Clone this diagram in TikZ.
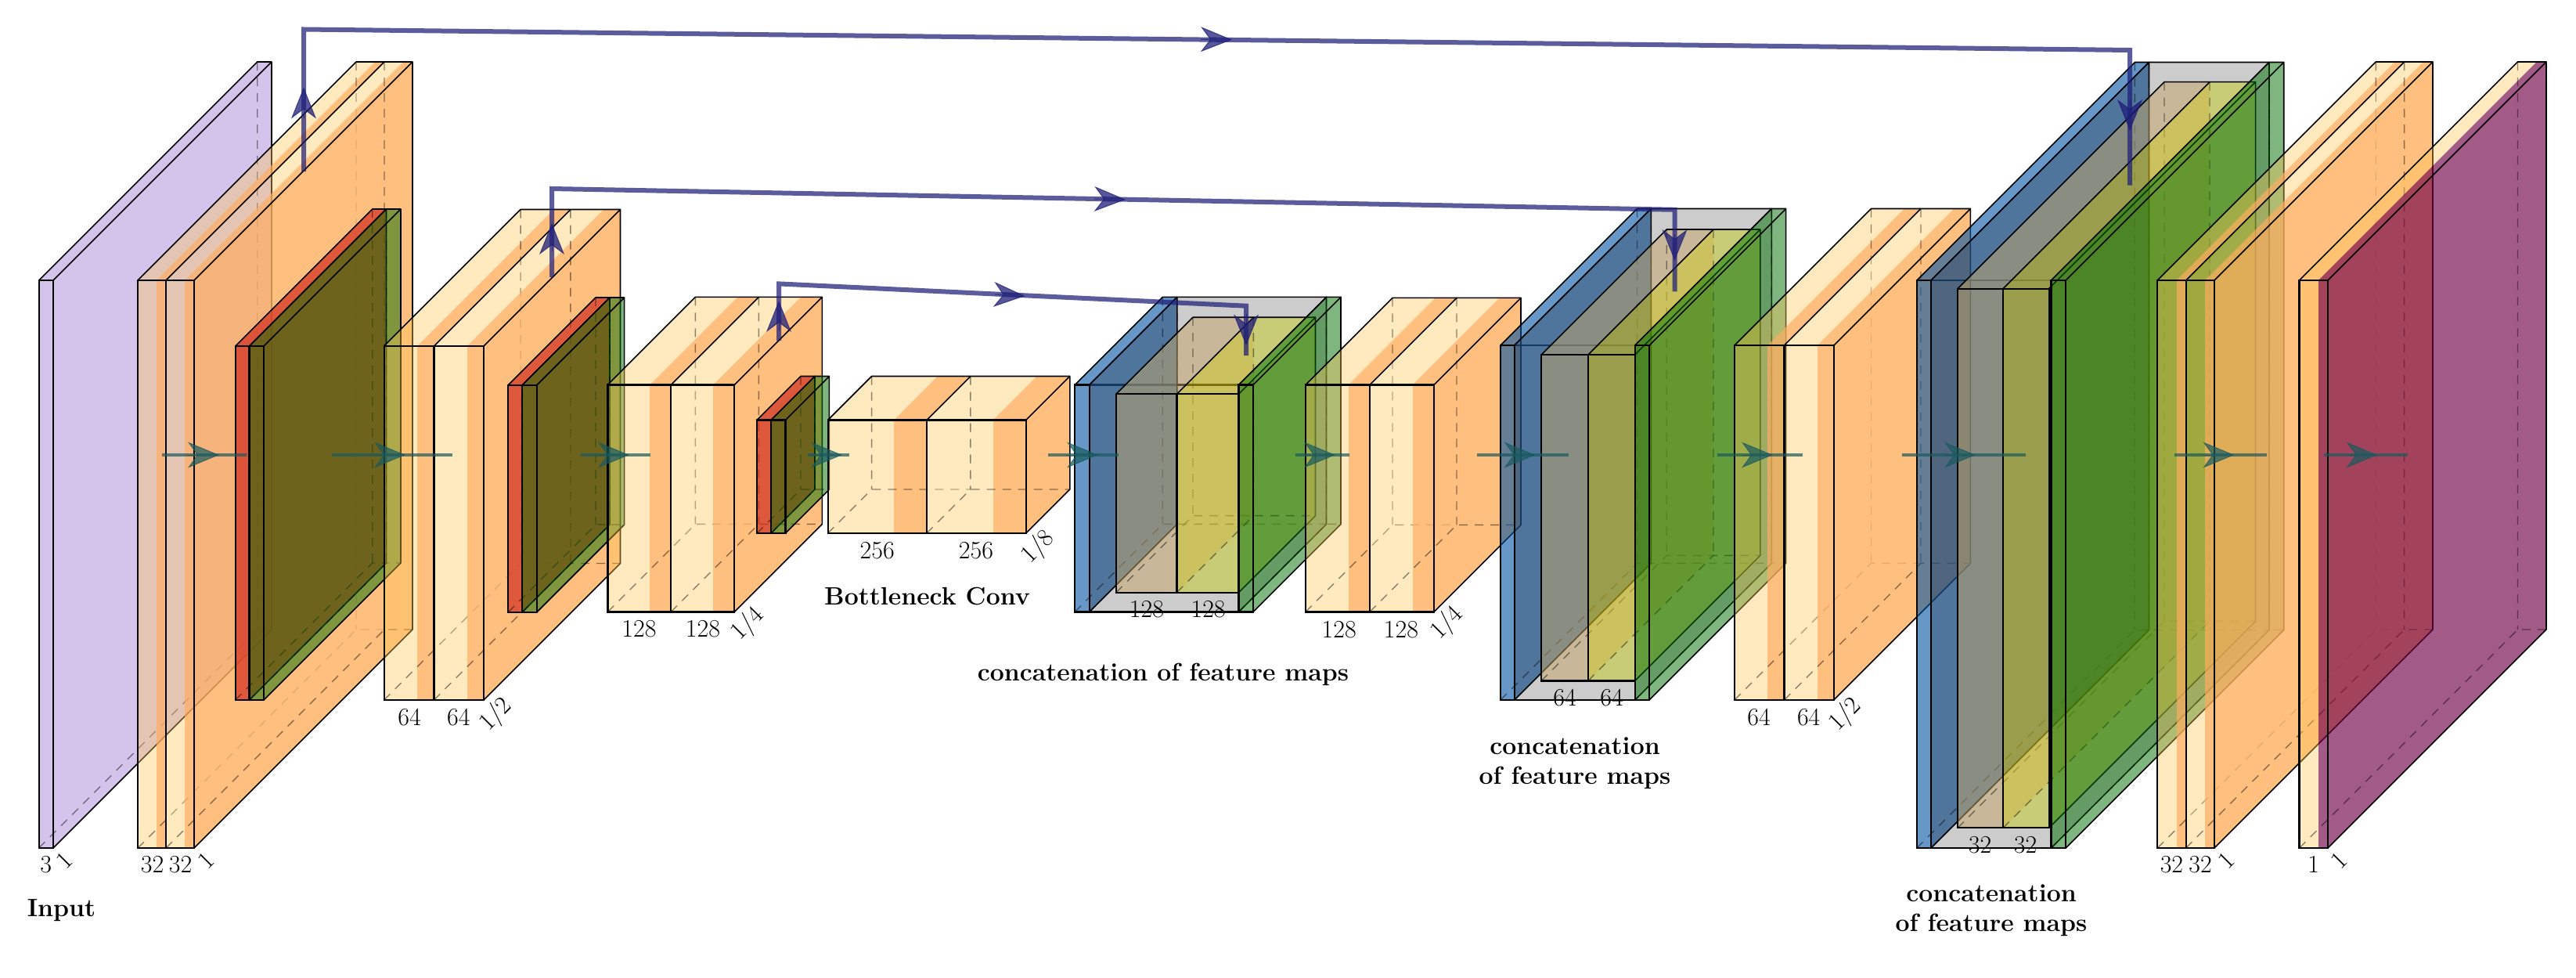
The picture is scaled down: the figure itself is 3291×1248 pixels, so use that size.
\documentclass[tikz,border=0pt]{standalone}
\usetikzlibrary{arrows.meta}
\definecolor{creamc}{RGB}{255,199,91}
\definecolor{orngc}{RGB}{255,176,96}
\definecolor{purpc}{RGB}{171,137,217}
\definecolor{magc}{RGB}{113,2,72}
\definecolor{redc}{RGB}{208,45,31}
\definecolor{greenc}{RGB}{0,110,0}
\definecolor{bluec}{RGB}{0,83,163}
\definecolor{bluedc}{RGB}{26,81,138}
\definecolor{innerl}{RGB}{198,166,104}
\definecolor{innerr}{RGB}{198,204,36}
\definecolor{inlrc}{RGB}{220,150,0}
\definecolor{flowc}{RGB}{25,90,95}
\definecolor{skipc}{RGB}{30,30,120}
\tikzset{
  cream/.style={fill=creamc,fill opacity=.39},
  orng/.style={fill=orngc,fill opacity=.8},
  purp/.style={fill=purpc,fill opacity=.5},
  mag/.style={fill=magc,fill opacity=.65},
  redf/.style={fill=redc,fill opacity=.7},
  greenf/.style={fill=greenc,fill opacity=.5},
  bluef/.style={fill=bluec,fill opacity=.6},
  bluedf/.style={fill=bluedc,fill opacity=.7},
  greyf/.style={fill=black,fill opacity=.2},
  inlf/.style={fill=innerl,fill opacity=.5},
  inrf/.style={fill=innerr,fill opacity=.5},
  inlr/.style={fill=inlrc,fill opacity=.2},
  edge/.style={draw=black,line width=1.6pt,line join=round},
  fedge/.style={draw=black,line width=2.2pt,line join=miter},
  hid/.style={draw=black,draw opacity=.45,line width=1.4pt,dash pattern=on 11pt off 9pt},
  flow/.style={draw=flowc,draw opacity=.7,line width=4pt},
  flowhead/.style={draw=flowc,fill=flowc,opacity=.7,line width=1pt,-{Stealth[length=40pt,width=33pt,inset=12pt]}},
  skip/.style={draw=skipc,draw opacity=.72,line width=6pt,line join=miter},
  skiphead/.style={draw=skipc,fill=skipc,opacity=.75,line width=1pt,-{Stealth[length=40pt,width=32pt,inset=12pt]}},
  lab/.style={inner sep=0pt,font=\fontsize{32}{38}\selectfont,align=center},
  blab/.style={inner sep=0pt,font=\fontsize{32}{38}\selectfont\bfseries,align=center},
  rlab/.style={lab,rotate=45}
}
% front: x0 x1 yt yb style
\newcommand\ffront[5]{\fill[#5] (#1,#3) rectangle (#2,#4);}
% top: x0 x1 yt off style
\newcommand\ftop[5]{\fill[#5] (#1,#3)--(#2,#3)--(#2+#4,#3-#4)--(#1+#4,#3-#4)--cycle;}
% right: x1 yt yb off style
\newcommand\fright[5]{\fill[#5] (#1,#2)--(#1+#4,#2-#4)--(#1+#4,#3-#4)--(#1,#3)--cycle;}
% edges of a slab without its own right side: x0 x1 yt yb off
\newcommand\edgesA[5]{%
  \draw[hid] (#1+#5,#3-#5)--(#1+#5,#4-#5) (#1,#4)--(#1+#5,#4-#5)--(#2+#5,#4-#5);
  \draw[edge] (#1,#3)--(#1+#5,#3-#5)--(#2+#5,#3-#5);
  \draw[fedge] (#1,#3) rectangle (#2,#4);}
% all edges
\newcommand\edgesB[5]{%
  \edgesA{#1}{#2}{#3}{#4}{#5}
  \draw[edge] (#2,#3)--(#2+#5,#3-#5)--(#2+#5,#4-#5)--(#2,#4);}
% one cream slab with a coloured stripe: x0 x1 yt yb off stripe-style
\newcommand\cslab[6]{%
  \pgfmathsetmacro\xs{#1+(#2-#1)*2/3}
  \ffront{#1}{\xs}{#3}{#4}{cream}\ffront{\xs}{#2}{#3}{#4}{#6}
  \ftop{#1}{\xs}{#3}{#5}{cream}\ftop{\xs}{#2}{#3}{#5}{#6}}
% pair of conv slabs: x0 x1 x2 yt yb off
\newcommand\convpair[6]{%
  \cslab{#1}{#2}{#4}{#5}{#6}{orng}\edgesA{#1}{#2}{#4}{#5}{#6}
  \cslab{#2}{#3}{#4}{#5}{#6}{orng}\fright{#3}{#4}{#5}{#6}{orng}\edgesB{#2}{#3}{#4}{#5}{#6}}
% red + green pooled slab: x0 x1 x2 yt yb off
\newcommand\pool[6]{%
  \ffront{#1}{#2}{#4}{#5}{redf}\ftop{#1}{#2}{#4}{#6}{redf}\fright{#2}{#4}{#5}{#6}{redf}\edgesB{#1}{#2}{#4}{#5}{#6}
  \ffront{#2}{#3}{#4}{#5}{greenf}\ftop{#2}{#3}{#4}{#6}{greenf}\fright{#3}{#4}{#5}{#6}{greenf}\edgesB{#2}{#3}{#4}{#5}{#6}}
% concat outer: xb0 xb1 xg yt yb off
\newcommand\concatA[6]{%
  \ffront{#2}{#3}{#4}{#5}{greyf}\ftop{#2}{#3}{#4}{#6}{greyf}\fright{#3}{#4}{#5}{#6}{greyf}\edgesB{#2}{#3}{#4}{#5}{#6}
  \ffront{#1}{#2}{#4}{#5}{bluef}\ftop{#1}{#2}{#4}{#6}{bluef}\fright{#2}{#4}{#5}{#6}{bluedf}\edgesB{#1}{#2}{#4}{#5}{#6}}
% concat inner: x0 x1 x2 yt yb off
\newcommand\concatB[6]{%
  \ffront{#1}{#2}{#4}{#5}{inlf}\ftop{#1}{#2}{#4}{#6}{inlf}\edgesA{#1}{#2}{#4}{#5}{#6}
  \ffront{#2}{#3}{#4}{#5}{inrf}\ftop{#2}{#3}{#4}{#6}{inrf}\fright{#3}{#4}{#5}{#6}{inrf}
  \fright{#2}{#4}{#5}{#6}{inlr}\edgesB{#2}{#3}{#4}{#5}{#6}}
% concat green: xg xgr yt yb off
\newcommand\concatC[5]{%
  \ffront{#1}{#2}{#3}{#4}{greenf}\ftop{#1}{#2}{#3}{#5}{greenf}\fright{#2}{#3}{#4}{#5}{greenf}\edgesB{#1}{#2}{#3}{#4}{#5}}
% flow arrow: name x0 xend xtail xtip
\newcommand\flowarrow[5]{%
  \coordinate (#1a) at (#2,581);\coordinate (#1b) at (#3,581);
  \coordinate (#1t) at (#4,581);\coordinate (#1h) at (#5,581);
  \draw[flow] (#1a)--(#1b);\draw[flowhead] (#1t)--(#1h);}
\begin{document}
\begin{tikzpicture}[x=1pt,y=-1pt]
\useasboundingbox (0,0) rectangle (3291,1248);
\fill[white] (0,0) rectangle (3291,1248);
% input
\ffront{49.7}{68}{358}{1083}{purp}\ftop{49.7}{68}{358}{279}{purp}\fright{68}{358}{1083}{279}{purp}\edgesB{49.7}{68}{358}{1083}{279}
\convpair{176}{212}{248}{358}{1083}{279}
\pool{300.7}{318.5}{337}{442}{894}{175}
\convpair{490.6}{554.4}{618}{442}{894}{174.5}
\pool{649}{667}{685.6}{492}{782}{112}
\convpair{776.4}{857.3}{938.3}{491.4}{781.4}{112}
\pool{967}{985}{1003.4}{536.5}{681}{56}
\convpair{1057.6}{1183.9}{1310.8}{536.5}{681}{56}
% concat 1
\concatA{1373.3}{1391.8}{1582.5}{491.4}{781.4}{112}
\concatB{1426}{1503.4}{1582.5}{503.2}{756.6}{98}
\concatC{1582.5}{1601}{491.4}{781.4}{112}
\convpair{1668}{1750}{1832}{491.4}{781.4}{111}
% concat 2
\concatA{1917}{1934.8}{2088.8}{441}{893.8}{174.5}
\concatB{1969.2}{2029}{2088.8}{453}{869.4}{160}
\concatC{2088.8}{2107.1}{441}{893.8}{174.5}
\convpair{2216}{2279.5}{2342.9}{441}{893.8}{174.5}
% concat 3
\concatA{2448.9}{2467}{2620.5}{358}{1083}{278.5}
\concatB{2501}{2559}{2617.6}{368.6}{1057.3}{264}
\concatC{2620.5}{2639.2}{358}{1083}{278.5}
\convpair{2756.3}{2792.6}{2829}{358}{1083}{279}
% output
\cslab{2937.5}{2974}{358}{1083}{279}{mag}\fright{2974}{358}{1083}{279}{mag}\edgesB{2937.5}{2974}{358}{1083}{279}
% flow arrows
\flowarrow{fa}{207}{315}{239}{280}
\flowarrow{fb}{424}{578}{478}{518}
\flowarrow{fc}{741.6}{831}{764}{804}
\flowarrow{fd}{1031.5}{1085}{1036.5}{1076}
\flowarrow{fe}{1339}{1429}{1362}{1403}
\flowarrow{ff}{1655}{1724}{1668}{1706}
\flowarrow{fg}{1886.6}{2004}{1922}{1961.6}
\flowarrow{fh}{2194}{2303}{2226}{2265}
\flowarrow{fi}{2430}{2587.5}{2485}{2524}
\flowarrow{fj}{2778}{2896}{2815}{2854.5}
\flowarrow{fk}{2969}{3076}{3000.5}{3037.5}
% skip connections
\coordinate (sa0) at (388,219);\coordinate (sa1) at (388,37.5);\coordinate (sa2) at (2721,64);\coordinate (sa3) at (2721,236.5);
\draw[skip] (sa0)--(sa1)--(sa2)--(sa3);
\coordinate (sat1) at (388,151);\coordinate (sah1) at (388,111.5);
\draw[skiphead] (sat1)--(sah1);
\coordinate (sat2) at (1534,50.2);\coordinate (sah2) at (1574,50.7);
\draw[skiphead] (sat2)--(sah2);
\coordinate (sat3) at (2721,127);\coordinate (sah3) at (2721,167);
\draw[skiphead] (sat3)--(sah3);
\coordinate (sb0) at (705,354);\coordinate (sb1) at (705,241);\coordinate (sb2) at (2139.5,267.8);\coordinate (sb3) at (2139.5,372.4);
\draw[skip] (sb0)--(sb1)--(sb2)--(sb3);
\coordinate (sbt1) at (705,321);\coordinate (sbh1) at (705,285);
\draw[skiphead] (sbt1)--(sbh1);
\coordinate (sbt2) at (1398,254);\coordinate (sbh2) at (1438,254.8);
\draw[skiphead] (sbt2)--(sbh2);
\coordinate (sbt3) at (2139.5,299);\coordinate (sbh3) at (2139.5,333);
\draw[skiphead] (sbt3)--(sbh3);
\coordinate (sc0) at (995,435);\coordinate (sc1) at (995,362.4);\coordinate (sc2) at (1592,390.7);\coordinate (sc3) at (1592,454);
\draw[skip] (sc0)--(sc1)--(sc2)--(sc3);
\coordinate (sct1) at (995,422);\coordinate (sch1) at (995,384);
\draw[skiphead] (sct1)--(sch1);
\coordinate (sct2) at (1271,376);\coordinate (sch2) at (1309.5,378);
\draw[skiphead] (sct2)--(sch2);
\coordinate (sct3) at (1592,401);\coordinate (sch3) at (1592,441.5);
\draw[skiphead] (sct3)--(sch3);
% labels
\node[lab] (t1) at (58.6,1104) {3};
\node[rlab] (t2) at (82.6,1099) {1};
\node[lab] (t3) at (194.6,1104) {32};
\node[lab] (t4) at (230.6,1104) {32};
\node[rlab] (t5) at (263,1099) {1};
\node[blab] (t6) at (78.5,1163) {Input};
\node[lab] (t7) at (523,915.6) {64};
\node[lab] (t8) at (585.8,915.6) {64};
\node[rlab] (t9) at (634,913) {1/2};
\node[lab] (t10) at (816.5,803) {128};
\node[lab] (t11) at (898,803) {128};
\node[rlab] (t12) at (955.6,797.5) {1/4};
\node[lab] (t13) at (1120.7,703) {256};
\node[lab] (t14) at (1247,703) {256};
\node[rlab] (t15) at (1326.7,699) {1/8};
\node[blab] (t16) at (1184.5,762) {Bottleneck Conv};
\node[lab] (t17) at (1465,778) {128};
\node[lab] (t18) at (1543.6,778) {128};
\node[blab] (t19) at (1486,861) {concatenation of feature maps};
\node[lab] (t20) at (1710.7,804) {128};
\node[lab] (t21) at (1790,804) {128};
\node[rlab] (t22) at (1849,796) {1/4};
\node[lab] (t23) at (1999,891) {64};
\node[lab] (t24) at (2059,891) {64};
\node[blab] (t25) at (2012,975) {concatenation\\of feature maps};
\node[lab] (t26) at (2247,916.5) {64};
\node[lab] (t27) at (2310.7,916.5) {64};
\node[rlab] (t28) at (2358,913) {1/2};
\node[lab] (t29) at (2529.5,1079) {32};
\node[lab] (t30) at (2587.5,1079) {32};
\node[blab] (t31) at (2544,1163) {concatenation\\of feature maps};
\node[lab] (t32) at (2774.4,1104) {32};
\node[lab] (t33) at (2811,1104) {32};
\node[rlab] (t34) at (2844,1099) {1};
\node[lab] (t35) at (2955.7,1104) {1};
\node[rlab] (t36) at (2988.6,1099) {1};
\end{tikzpicture}
\end{document}
